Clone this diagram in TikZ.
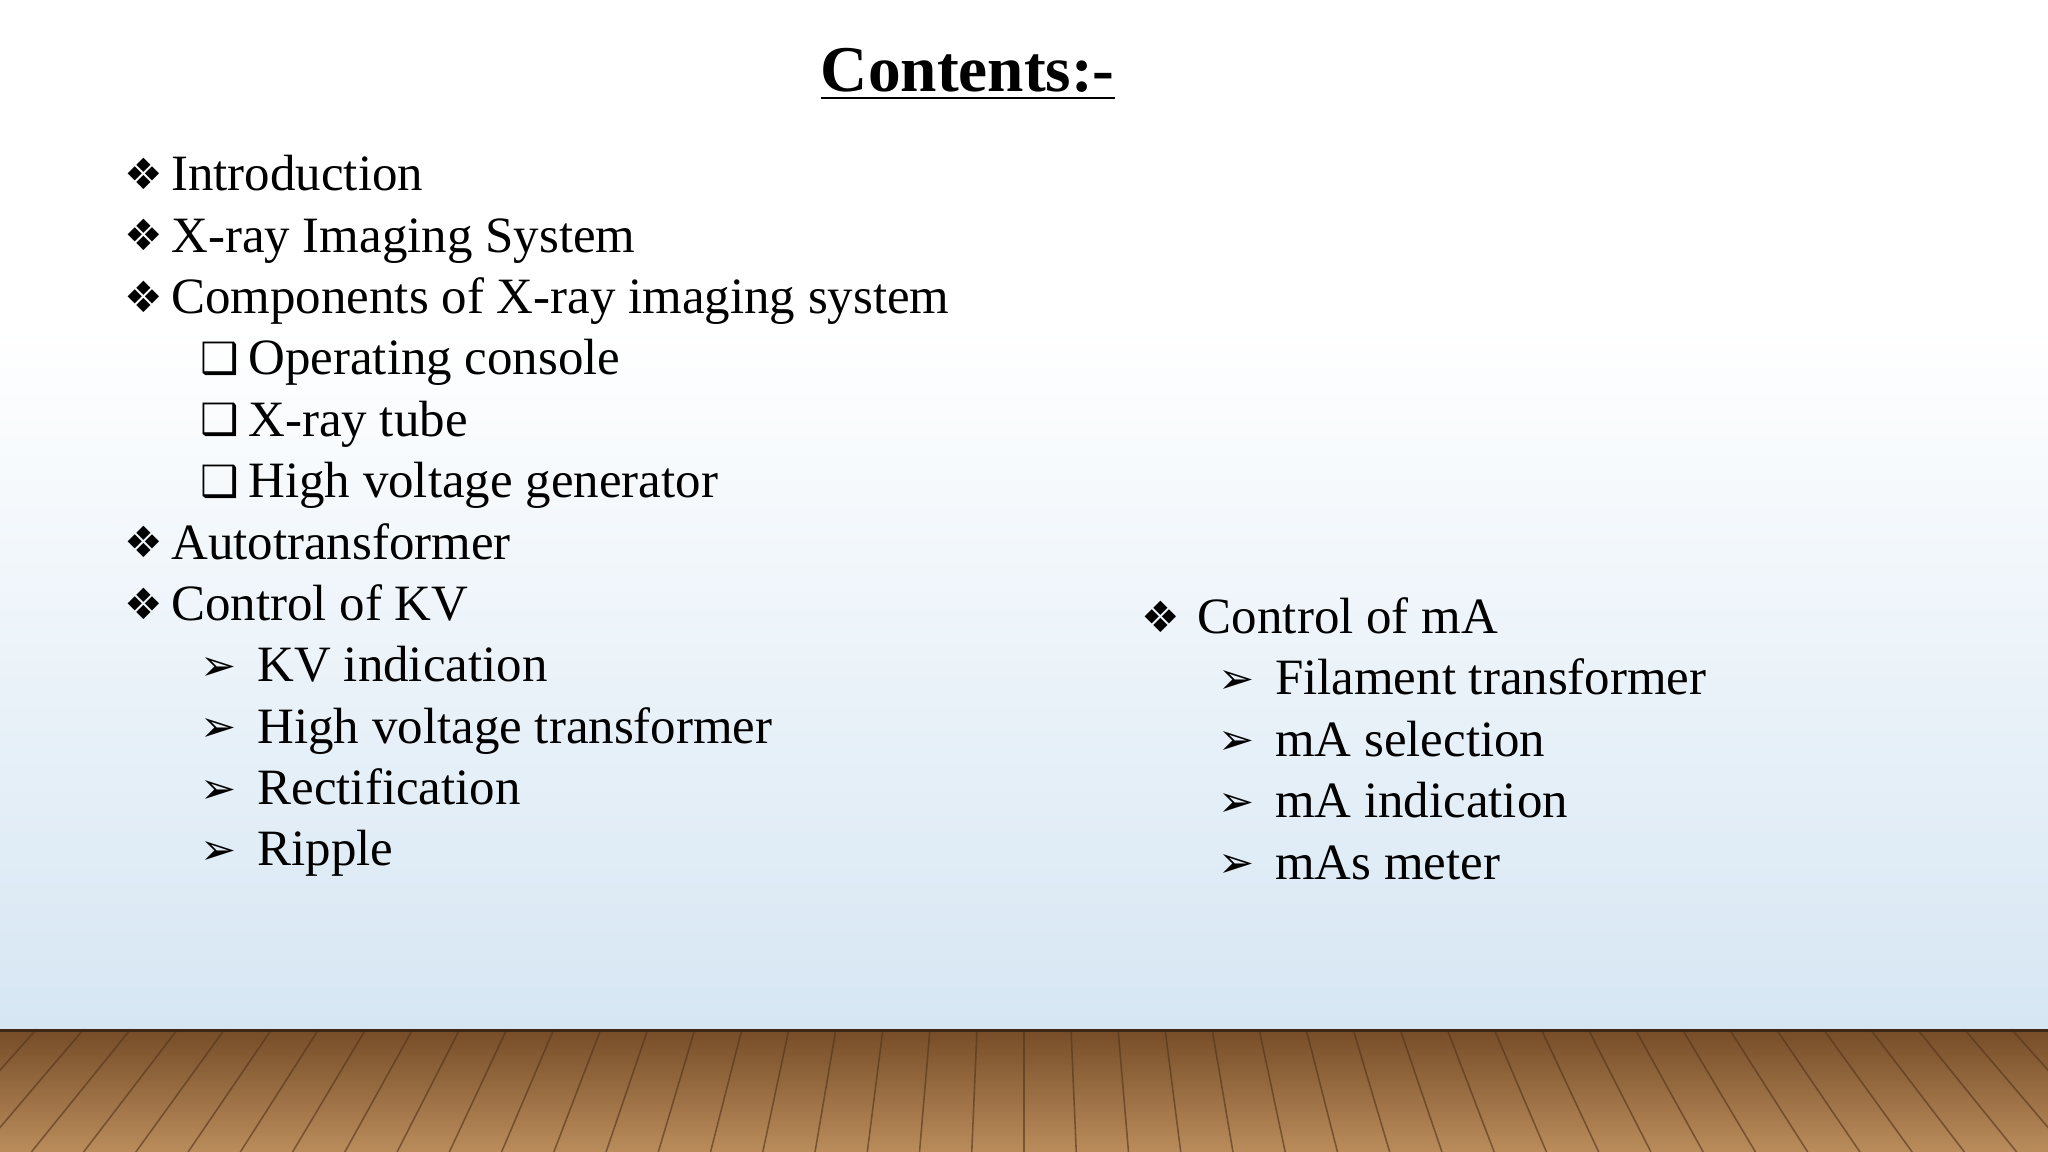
\documentclass[tikz,border=0pt]{standalone}
\usepackage{fontspec}
\setmainfont{Liberation Serif}
\newfontfamily\sym{DejaVu Sans}
\definecolor{skyb}{RGB}{214,230,243}
\definecolor{woodA}{RGB}{150,105,62}
\definecolor{woodD}{RGB}{110,70,35}
\definecolor{woodL}{RGB}{196,150,100}
\definecolor{woodLn}{RGB}{80,50,25}
\definecolor{woodE}{RGB}{60,40,20}
\begin{document}
\begin{tikzpicture}[x=1pt,y=-1pt,
  itm/.style={anchor=base west,inner sep=0pt,font=\fontsize{39}{44}\selectfont},
  bul/.style={anchor=base west,inner sep=0pt,font=\sym\fontsize{33}{36}\selectfont}]
\useasboundingbox (0,0) rectangle (1568,882);
\fill[white] (0,0) rectangle (1568,250);
\shade[top color=white,bottom color=skyb] (0,250) rectangle (1568,788);
\fill[woodA] (0,788) rectangle (1568,882);
\shade[top color=woodD,bottom color=woodL,opacity=0.8] (0,788) rectangle (1568,882);
\foreach \i in {0,...,50}{
  \draw[woodLn,line width=1.2pt,opacity=0.6] ({784+(\i-25)*36},788) -- ({784+(\i-25)*40},882);}
\draw[woodE,line width=2pt] (0,789) -- (1568,789);
\node[anchor=base,inner sep=0pt,font=\bfseries\fontsize{50}{54}\selectfont] (title) at (741,70) {Contents:-};
\draw[line width=2pt] ([yshift=-5pt]title.base west) -- ([yshift=-5pt]title.base east);
\foreach \t [count=\k] in {Introduction,X-ray Imaging System,Components of X-ray imaging system}{
  \node[bul] (b\k) at (95,{133+47*(\k-1)+12}) {❖};
  \node[itm] (t\k) at (131,{133+47*(\k-1)+13}) {\t};}
\foreach \t [count=\k] in {Operating console,X-ray tube,High voltage generator}{
  \node[bul] (c\k) at (153,{274+47*(\k-1)+12}) {\textbf{❑}};
  \node[itm] (u\k) at (190,{274+47*(\k-1)+13}) {\t};}
\foreach \t [count=\k] in {Autotransformer,Control of KV}{
  \node[bul] (d\k) at (95,{415+47*(\k-1)+12}) {❖};
  \node[itm] (v\k) at (131,{415+47*(\k-1)+13}) {\t};}
\foreach \t [count=\k] in {KV indication,High voltage transformer,Rectification,Ripple}{
  \node[bul] (e\k) at (153,{509+47*(\k-1)+12}) {\textbf{➢}};
  \node[itm] (w\k) at (197,{509+47*(\k-1)+13}) {\t};}
\node[bul] (f0) at (874,484) {❖};
\node[itm] (x0) at (917,485) {Control of mA};
\foreach \t [count=\k] in {Filament transformer,mA selection,mA indication,mAs meter}{
  \node[bul] (f\k) at (933,{519+47*(\k-1)+12}) {\textbf{➢}};
  \node[itm] (x\k) at (976,{519+47*(\k-1)+13}) {\t};}
\end{tikzpicture}
\end{document}
